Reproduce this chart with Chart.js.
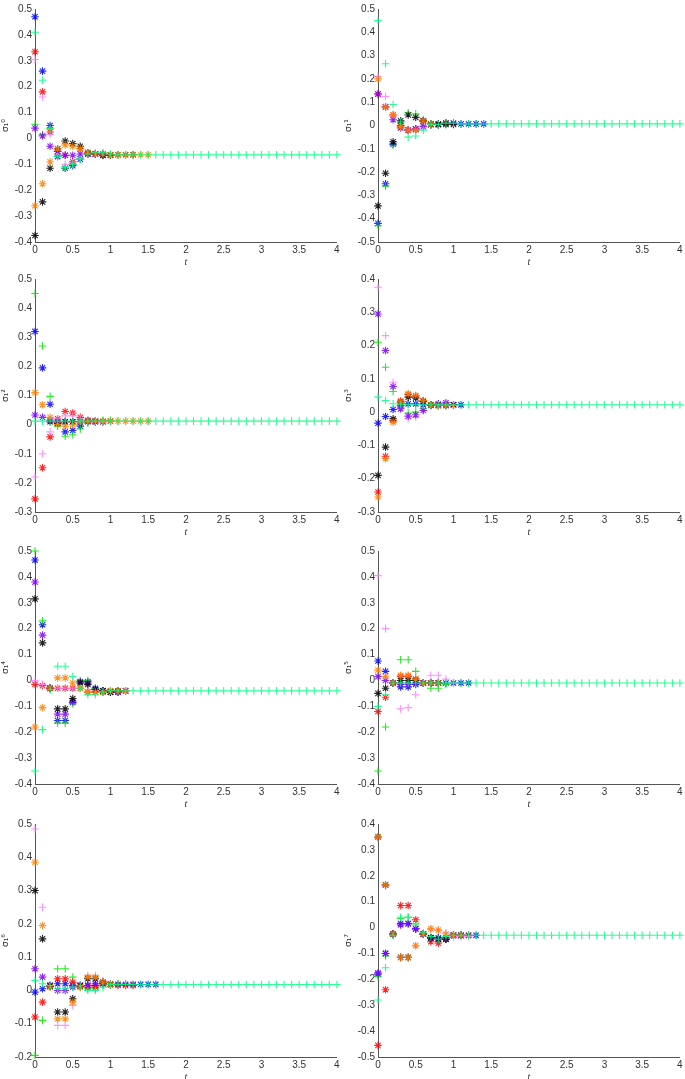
<!DOCTYPE html>
<html><head><meta charset="utf-8">
<script src="https://cdn.jsdelivr.net/npm/chart.js@4/dist/chart.umd.min.js"></script>
<style>body{margin:0;background:#fff;width:685px;height:1079px;position:relative;overflow:hidden}
canvas{position:absolute}</style></head><body>
<script>
const T=[0,0.1,0.2,0.3,0.4,0.5,0.6,0.7,0.8,0.9,1.0,1.1,1.2,1.3,1.4,1.5,1.6,1.7,1.8,1.9,2.0,2.1,2.2,2.3,2.4,2.5,2.6,2.7,2.8,2.9,3.0,3.1,3.2,3.3,3.4,3.5,3.6,3.7,3.8,3.9,4.0];
const X_TICKS=[0,0.5,1,1.5,2,2.5,3,3.5,4];
const Y_LABELS=['σ₁⁰','σ₁¹','σ₁²','σ₁³','σ₁⁴','σ₁⁵','σ₁⁶','σ₁⁷'];
const Y_MIN=[-0.4,-0.5,-0.3,-0.3,-0.4,-0.4,-0.2,-0.5];
const Y_MAX=[0.5,0.5,0.5,0.4,0.5,0.5,0.5,0.4];

// panel 0
const P0_B=[0.47,0.26,0.05,-0.07,-0.115,-0.105,-0.08,-0.06,-0.06,-0.06,-0.063];
const P0_G=[0.055,0.015,0.04,-0.065,-0.115,-0.1,-0.08,-0.06];
const P0_R=[0.335,0.18,0.025,-0.05,-0.065,-0.09,-0.04,-0.06,-0.06,-0.065,-0.065];
const P0_M=[0.305,0.16,0.015,-0.06,-0.1,-0.095,-0.075,-0.06,-0.06,-0.06,-0.063];
const P0_P=[0.04,0.01,-0.03,-0.05,-0.065,-0.065,-0.06,-0.06,-0.06,-0.063];
const P0_O=[-0.26,-0.175,-0.09,-0.04,-0.025,-0.03,-0.04,-0.055,-0.06,-0.06,-0.063,-0.063,-0.063,-0.063,-0.063,-0.063];
const P0_K=[-0.375,-0.245,-0.115,-0.04,-0.01,-0.02,-0.03,-0.055,-0.06,-0.065,-0.065,-0.063,-0.063,-0.063];
const P0_C=[0.41,0.225,0.035,-0.07,-0.11,-0.1,-0.08,-0.06,-0.055,-0.055,-0.06,-0.063,-0.063,-0.063,-0.063,-0.063,-0.063,-0.063,-0.063,-0.063,-0.063,-0.063,-0.063,-0.063,-0.063,-0.063,-0.063,-0.063,-0.063,-0.063,-0.063,-0.063,-0.063,-0.063,-0.063,-0.063,-0.063,-0.063,-0.063,-0.063,-0.063];
// panel 1
const P1_B=[-0.42,-0.25,-0.08,-0.01,-0.02,-0.015,0.02,0.005,0.005,0.01,0.01,0.007,0.007,0.007,0.007];
const P1_G=[-0.43,-0.26,-0.085,0.015,0.055,0.05,0.025,0.005,0.005,0.01];
const P1_R=[0.135,0.08,0.045,0.0,-0.02,-0.015,0.02,0.005,0.005,0.01];
const P1_M=[0.21,0.125,0.04,-0.01,-0.02,-0.02,0.0,0.005];
const P1_P=[0.135,0.08,0.025,0.0,-0.02,-0.015,-0.005,0.005,0.005];
const P1_O=[0.2,0.08,0.045,-0.005,-0.02,-0.02,0.02,0.005];
const P1_K=[-0.345,-0.205,-0.07,0.02,0.045,0.035,0.02,0.005,0.005,0.005,0.005];
const P1_C=[0.45,0.265,0.09,0.015,-0.05,-0.045,-0.02,0.005,0.005,0.01,0.01,0.007,0.007,0.007,0.007,0.007,0.007,0.007,0.007,0.007,0.007,0.007,0.007,0.007,0.007,0.007,0.007,0.007,0.007,0.007,0.007,0.007,0.007,0.007,0.007,0.007,0.007,0.007,0.007,0.007,0.007];
// panel 2
const P2_B=[0.32,0.195,0.07,0.005,-0.025,-0.02,-0.005,0.01,0.01,0.01];
const P2_G=[0.45,0.27,0.097,-0.005,-0.04,-0.035,-0.015,0.005,0.012,0.015,0.015];
const P2_R=[-0.255,-0.148,-0.042,0.02,0.045,0.04,0.025,0.015,0.01,0.01,0.012];
const P2_M=[-0.18,-0.1,-0.025,0.02,0.03,0.03,0.02,0.012,0.012,0.01];
const P2_P=[0.033,0.025,0.015,0.01,0.01,0.01,0.01,0.012,0.012];
const P2_O=[0.11,0.068,0.025,0.0,-0.005,0.0,0.01,0.012,0.012,0.012,0.012,0.012,0.012,0.012,0.012,0.012];
const P2_K=[null,null,0.01,0.005,0.01,0.01,0.01,0.012,0.012];
const P2_C=[0.012,0.012,0.012,0.012,0.012,0.012,0.012,0.012,0.012,0.012,0.012,0.012,0.012,0.012,0.012,0.012,0.012,0.012,0.012,0.012,0.012,0.012,0.012,0.012,0.012,0.012,0.012,0.012,0.012,0.012,0.012,0.012,0.012,0.012,0.012,0.012,0.012,0.012,0.012,0.012,0.012];
// panel 3
const P3_B=[-0.033,-0.013,0.008,0.02,0.025,0.025,0.022,0.022,0.022,0.022,0.022,0.022];
const P3_G=[0.21,0.135,0.062,0.015,-0.003,0.0,0.01,0.02,0.022];
const P3_R=[-0.24,-0.133,-0.025,0.033,0.053,0.048,0.033,0.022,0.02,0.022];
const P3_M=[0.375,0.23,0.09,0.01,-0.02,-0.015,0.005,0.02,0.025,0.025,0.022];
const P3_P=[0.295,0.185,0.077,0.01,-0.012,-0.008,0.005,0.02,0.025,0.028,0.022];
const P3_O=[-0.255,-0.14,-0.03,0.03,0.055,0.05,0.035,0.022,0.02,0.02,0.02];
const P3_K=[-0.19,-0.105,-0.02,0.03,0.045,0.043,0.033,0.022,0.02,0.02,0.022];
const P3_C=[0.045,0.035,0.025,0.022,0.022,0.022,0.022,0.022,0.022,0.022,0.022,0.022,0.022,0.022,0.022,0.022,0.022,0.022,0.022,0.022,0.022,0.022,0.022,0.022,0.022,0.022,0.022,0.022,0.022,0.022,0.022,0.022,0.022,0.022,0.022,0.022,0.022,0.022,0.022,0.022,0.022];
// panel 4
const P4_B=[0.465,0.215,-0.03,-0.155,-0.155,-0.085,-0.005,-0.005,-0.03,-0.04,-0.045,-0.045,-0.04];
const P4_G=[0.5,0.23,-0.035,-0.165,-0.165,-0.09,0.0,0.0,-0.03,-0.04,-0.04];
const P4_R=[-0.015,-0.02,-0.03,-0.03,-0.03,-0.03,-0.03,-0.045,-0.045,-0.045,-0.04,-0.04,-0.04];
const P4_M=[0.0,-0.015,-0.03,-0.03,-0.03,-0.03,-0.03,-0.035,-0.04,-0.04,-0.04];
const P4_P=[0.38,0.175,-0.03,-0.13,-0.13,-0.08,-0.005,-0.01,-0.035,-0.04,-0.045,-0.045,-0.04];
const P4_O=[-0.18,-0.105,-0.03,0.01,0.01,-0.01,-0.03,-0.045,-0.045,-0.045,-0.04,-0.04,-0.04];
const P4_K=[0.315,0.145,-0.03,-0.11,-0.11,-0.07,-0.01,-0.015,-0.035,-0.04,-0.045,-0.04];
const P4_C=[-0.35,-0.19,-0.035,0.055,0.055,0.015,-0.03,-0.055,-0.055,-0.045,-0.04,-0.04,-0.04,-0.04,-0.04,-0.04,-0.04,-0.04,-0.04,-0.04,-0.04,-0.04,-0.04,-0.04,-0.04,-0.04,-0.04,-0.04,-0.04,-0.04,-0.04,-0.04,-0.04,-0.04,-0.04,-0.04,-0.04,-0.04,-0.04,-0.04,-0.04];
// panel 5
const P5_B=[0.075,0.035,-0.01,-0.025,-0.025,-0.015,-0.01,-0.01,-0.01,-0.01,-0.01,-0.01,-0.01];
const P5_G=[-0.35,-0.18,-0.01,0.08,0.08,0.035,-0.01,-0.03,-0.03,-0.015,-0.01];
const P5_R=[-0.12,-0.065,-0.01,0.015,0.015,0.005,-0.01,-0.01,-0.01];
const P5_M=[0.405,0.2,-0.01,-0.11,-0.105,-0.055,-0.01,0.02,0.02,0.005,-0.01];
const P5_P=[0.015,0.0,-0.01,-0.015,-0.015,-0.01,-0.01,-0.01,-0.01];
const P5_O=[0.04,0.015,-0.01,0.02,0.02,0.005,-0.01,-0.01,-0.01];
const P5_K=[-0.05,-0.03,-0.01,0.0,0.0,0.0,-0.01,-0.01,-0.01];
const P5_C=[-0.1,-0.055,-0.01,-0.01,-0.01,-0.01,-0.01,-0.01,-0.01,-0.01,-0.01,-0.01,-0.01,-0.01,-0.01,-0.01,-0.01,-0.01,-0.01,-0.01,-0.01,-0.01,-0.01,-0.01,-0.01,-0.01,-0.01,-0.01,-0.01,-0.01,-0.01,-0.01,-0.01,-0.01,-0.01,-0.01,-0.01,-0.01,-0.01,-0.01,-0.01];
// panel 6
const P6_B=[-0.005,0.005,0.015,0.02,0.02,0.015,0.015,0.015,0.015,0.02,0.018,0.018,0.018,0.018,0.018,0.018,0.018];
const P6_G=[-0.195,-0.09,0.015,0.065,0.065,0.04,0.015,0.005,0.005,0.015,0.018,0.02,0.02];
const P6_R=[-0.08,-0.035,0.015,0.035,0.035,0.025,0.015,0.01,0.01,0.02,0.018,0.015,0.015,0.015];
const P6_M=[0.485,0.25,0.015,-0.105,-0.105,-0.045,0.01,0.045,0.045,0.03,0.02];
const P6_P=[0.065,0.04,0.015,0.0,0.0,0.01,0.015,0.015,0.02,0.02,0.018];
const P6_O=[0.385,0.195,0.01,-0.085,-0.085,-0.035,0.01,0.04,0.04,0.025,0.018];
const P6_K=[0.3,0.155,0.012,-0.065,-0.065,-0.025,0.012,0.035,0.035,0.025,0.018];
const P6_C=[0.03,0.02,0.015,0.005,0.005,0.01,0.015,0.0,0.0,0.01,0.018,0.018,0.018,0.018,0.018,0.018,0.018,0.018,0.018,0.018,0.018,0.018,0.018,0.018,0.018,0.018,0.018,0.018,0.018,0.018,0.018,0.018,0.018,0.018,0.018,0.018,0.018,0.018,0.018,0.018,0.018];
// panel 7
const P7_B=[-0.18,-0.1,-0.025,0.015,0.015,-0.005,-0.025,-0.04,-0.04,-0.04,-0.03,-0.03,-0.03,-0.03];
const P7_G=[-0.19,-0.11,-0.03,0.035,0.04,0.01,-0.025,-0.04,-0.045,-0.04,-0.03];
const P7_R=[-0.455,-0.24,-0.025,0.085,0.085,0.03,-0.025,-0.055,-0.06,-0.045,-0.03,-0.03,-0.03];
const P7_M=[0.345,0.16,-0.025,-0.115,-0.115,-0.07,-0.025,-0.005,-0.01,-0.02,-0.035,-0.035,-0.035];
const P7_P=[-0.175,-0.1,-0.025,0.01,0.015,-0.005,-0.025,-0.04,-0.045,-0.045,-0.03,-0.03];
const P7_O=[0.35,0.165,-0.025,-0.115,-0.115,-0.07,-0.025,-0.005,-0.01,-0.025,-0.03,-0.03];
const P7_K=[0.35,0.165,-0.025,-0.115,-0.115,null,-0.025,-0.04,-0.045,-0.045,-0.03,-0.03];
const P7_C=[-0.28,-0.155,-0.03,0.04,0.04,0.015,-0.02,-0.035,-0.045,-0.035,-0.03,-0.03,-0.03,-0.03,-0.03,-0.03,-0.03,-0.03,-0.03,-0.03,-0.03,-0.03,-0.03,-0.03,-0.03,-0.03,-0.03,-0.03,-0.03,-0.03,-0.03,-0.03,-0.03,-0.03,-0.03,-0.03,-0.03,-0.03,-0.03,-0.03,-0.03];

const PANELS=[
 [P0_C,P0_O,P0_K,P0_P,P0_M,P0_R,P0_G,P0_B],
 [P1_C,P1_O,P1_K,P1_P,P1_M,P1_R,P1_G,P1_B],
 [P2_C,P2_O,P2_K,P2_P,P2_M,P2_R,P2_G,P2_B],
 [P3_C,P3_O,P3_K,P3_P,P3_M,P3_R,P3_G,P3_B],
 [P4_C,P4_O,P4_K,P4_P,P4_M,P4_R,P4_G,P4_B],
 [P5_C,P5_O,P5_K,P5_P,P5_M,P5_R,P5_G,P5_B],
 [P6_C,P6_O,P6_K,P6_P,P6_M,P6_R,P6_G,P6_B],
 [P7_C,P7_O,P7_K,P7_P,P7_M,P7_R,P7_G,P7_B]];
const COLORS=['rgba(0,255,128,0.85)','rgba(255,128,0,0.85)','rgba(0,0,0,0.85)','rgba(128,0,255,0.85)','rgba(255,128,255,0.85)','rgba(255,0,0,0.85)','rgba(0,230,0,0.85)','rgba(0,0,255,0.85)'];
const STYLES=['cross','star','star','star','cross','star','cross','star'];
const TOPS=[0,270,542,815];

PANELS.forEach((series,pi)=>{
  const col=pi%2,row=Math.floor(pi/2);
  const c=document.createElement('canvas');
  c.style.left=(col?343:0)+'px';c.style.top=TOPS[row]+'px';
  c.style.width='342px';c.style.height='268px';
  document.body.appendChild(c);
  const datasets=series.map((arr,si)=>({
    data:arr.map((v,i)=>v===null?null:{x:T[i],y:v}).filter(p=>p),
    pointStyle:STYLES[si],pointRadius:3.8,pointBorderWidth:1.1,clip:false,
    borderColor:COLORS[si],backgroundColor:COLORS[si],showLine:false}));
  new Chart(c,{type:'scatter',data:{datasets},options:{
    responsive:false,animation:false,devicePixelRatio:1,
    layout:{padding:{top:5,right:col?5:4,left:0,bottom:0}},
    plugins:{legend:{display:false},tooltip:{enabled:false}},
    scales:{
      x:{type:'linear',min:0,max:4,afterBuildTicks:a=>{a.ticks=X_TICKS.map(v=>({value:v}))},
        grid:{display:false,drawTicks:false},border:{display:true,color:'#555'},
        ticks:{color:'#333',font:{family:'Liberation Sans',size:10},padding:2,maxRotation:0,callback:v=>String(v)},
        title:{display:true,text:'t',color:'#333',font:{family:'Liberation Serif',size:10,style:'italic'},padding:{top:0,bottom:0}},
        afterFit:a=>{a.height=26}},
      y:{min:Y_MIN[pi],max:Y_MAX[pi],ticks:{stepSize:0.1,color:'#333',font:{family:'Liberation Sans',size:10},padding:3,
          callback:v=>String(Math.round(v*10)/10)},
        grid:{display:false,drawTicks:false},border:{display:true,color:'#555'},
        title:{display:true,text:Y_LABELS[pi],color:'#333',font:{family:'DejaVu Sans',size:9},padding:{top:0,bottom:1}},
        afterFit:a=>{a.width=35}}
    }}});
});
</script></body></html>
